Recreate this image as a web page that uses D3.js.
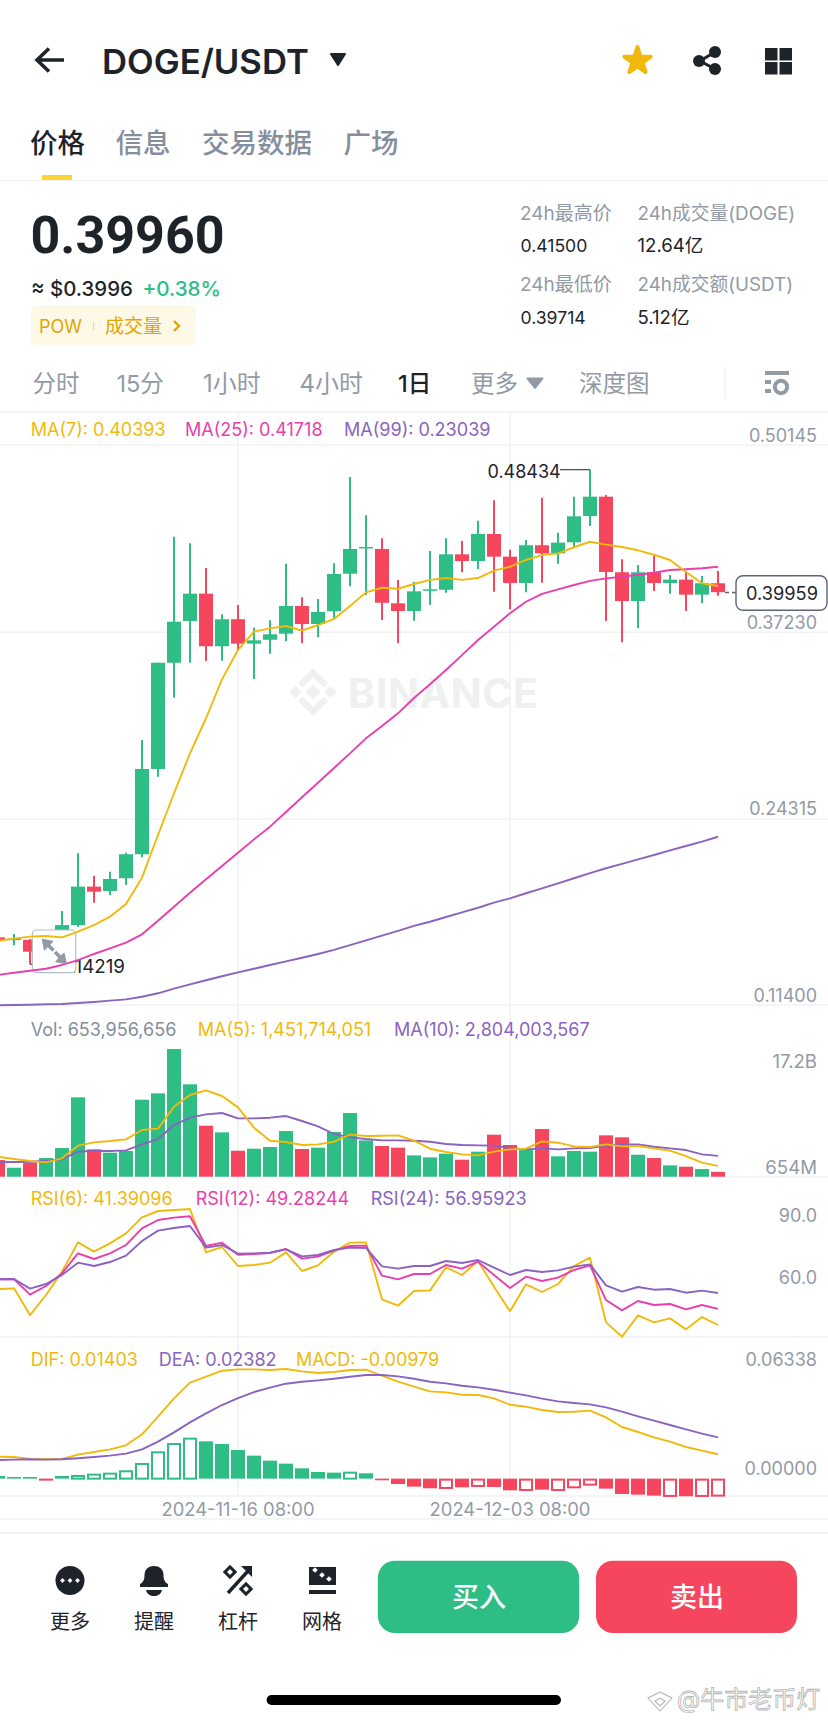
<!DOCTYPE html>
<html><head><meta charset="utf-8">
<script src="https://cdn.jsdelivr.net/npm/d3@7"></script>
<style>
html,body{margin:0;padding:0;background:#fff;}
svg{display:block;}
text{font-family:"Inter","Noto Sans CJK SC",sans-serif;}
</style></head><body>
<svg id="c" width="828" height="1721"></svg>
<script>
// ---------- data ----------
const openP=[.1608,.1590,.1590,.1509,.1540,.1693,.1959,.1929,.2017,.2183,.2773,.3508,.3797,.3986,.3622,.3809,.3640,.3667,.3709,.3901,.3776,.3864,.4124,.4300,.4295,.3919,.3866,.4006,.4013,.4258,.4212,.4399,.4242,.4060,.4321,.4265,.4341,.4523,.4657,.4134,.3935,.4134,.4060,.4083,.3979,.4058];
const closeP=[.1585,.1599,.1509,.1540,.1693,.1959,.1924,.2012,.2183,.2773,.3508,.3792,.3986,.3622,.3809,.3640,.3663,.3705,.3901,.3776,.3859,.4122,.4295,.4309,.3923,.3866,.4002,.4016,.4258,.4212,.4399,.4242,.4060,.4321,.4265,.4339,.4521,.4657,.4136,.3935,.4134,.4060,.4083,.3979,.4058,.39960];
const highP=[.1617,.1631,.1597,.1570,.1790,.2190,.2035,.2062,.2194,.2973,.3508,.4380,.4334,.4164,.3843,.3908,.3750,.3802,.4193,.3961,.3949,.4196,.4793,.4528,.4369,.4081,.4069,.4281,.4369,.4350,.4491,.4632,.4290,.4357,.4650,.4408,.4657,.48434,.4669,.4224,.4184,.4249,.4115,.4138,.4108,.4143];
const lowP=[.1576,.1553,.14219,.1490,.1520,.1682,.1848,.1901,.1970,.2162,.2720,.3266,.3508,.3520,.3522,.3596,.3396,.3571,.3656,.3643,.3684,.3816,.4037,.3977,.3804,.3643,.3799,.3908,.3993,.4134,.4157,.4000,.3878,.3995,.4062,.4193,.4311,.4454,.3797,.3649,.3746,.4004,.3986,.3866,.3919,.3972];
const ma7=[.1585,.1599,.1613,.1617,.1608,.1647,.1693,.1751,.1839,.2021,.2316,.2605,.2881,.3124,.3393,.3596,.3723,.3746,.3762,.3730,.3769,.3811,.3901,.3995,.4027,.4020,.4053,.4081,.4094,.4081,.4094,.4145,.4172,.4219,.4253,.4265,.4307,.4345,.4325,.4309,.4286,.4255,.4219,.4136,.4058,.40393];
const ma25=[.1348,.1363,.1377,.1391,.1417,.1451,.1493,.1532,.1571,.1629,.1723,.1820,.1917,.2010,.2102,.2194,.2286,.2374,.2475,.2577,.2678,.2780,.2881,.2985,.3070,.3158,.3264,.3359,.3458,.3561,.3665,.3757,.3851,.3930,.3984,.4016,.4046,.4074,.4092,.4103,.4117,.4131,.4150,.4155,.4162,.41718];
const ma99=[.1138,.1140,.1142,.1145,.1147,.1154,.1161,.1170,.1179,.1197,.1221,.1253,.1283,.1311,.1339,.1366,.1391,.1417,.1442,.1467,.1493,.1521,.1554,.1587,.1620,.1653,.1687,.1716,.1749,.1781,.1813,.1848,.1878,.1913,.1947,.1982,.2017,.2053,.2086,.2116,.2148,.2178,.2210,.2240,.2270,.23039];
const volume=[2.24,1.21,1.89,2.51,3.86,10.69,3.68,3.23,3.46,10.37,11.23,17.20,12.44,6.87,5.97,3.50,3.77,4.00,6.15,3.73,3.91,6.02,8.58,4.89,4.13,3.91,2.87,2.60,3.10,2.29,3.37,5.66,4.27,3.59,6.42,2.74,3.46,3.37,5.57,5.30,2.96,2.51,1.53,1.35,1.03,.654];
const volMa5=[2.69,2.38,2.11,1.93,2.47,4.18,4.62,4.80,5.03,6.29,6.47,9.43,11.00,11.63,10.87,9.34,6.60,4.85,4.67,4.27,4.36,4.71,5.66,5.48,5.52,5.57,4.85,3.77,3.32,3.01,2.87,3.37,3.68,3.77,4.76,4.58,4.09,4.00,4.36,4.09,4.13,3.82,3.50,2.78,1.89,1.45];
const volMa10=[1.93,1.98,2.02,2.11,2.38,3.37,3.50,3.46,3.55,4.36,5.07,6.96,7.95,8.40,8.58,7.86,7.86,7.95,8.17,7.50,6.78,5.75,5.30,5.07,4.89,4.89,4.85,4.71,4.40,4.27,4.22,4.18,3.86,3.68,3.82,3.68,3.82,3.86,4.18,4.36,4.36,4.04,3.82,3.59,3.01,2.80];
const rsi6=[58.91,59.23,46.25,55.99,67.34,81.61,77.07,81.13,85.99,93.78,96.86,97.35,97.83,76.75,79.34,70.10,70.58,71.72,76.75,67.67,70.42,77.07,81.45,81.61,53.88,50.80,57.93,58.26,69.45,65.72,72.53,60.04,48.04,61.18,57.45,61.34,70.10,74.15,42.69,35.71,46.09,42.69,44.63,39.28,45.28,41.39];
const rsi12=[63.61,63.77,56.15,60.37,66.53,76.26,73.50,76.26,80.32,88.43,92.48,93.62,94.27,79.83,81.45,75.61,75.94,76.42,78.37,73.67,74.64,77.56,79.83,79.99,65.39,63.61,66.21,66.21,70.58,68.80,72.21,65.72,59.39,64.91,62.80,64.42,68.15,70.42,53.55,48.53,53.07,51.12,51.61,49.01,51.12,49.28];
const rsi24=[63.61,63.77,59.07,61.34,65.72,71.72,70.10,72.04,75.13,82.26,87.29,88.59,89.56,79.02,80.32,76.10,76.26,76.59,78.21,74.80,75.45,77.88,79.02,78.86,69.94,68.80,70.10,70.10,72.53,71.56,73.02,69.29,65.72,68.15,67.18,67.99,69.77,70.91,60.69,57.61,59.88,58.58,58.91,57.12,58.10,56.96];
const dif=[.01267,.01248,.01133,.01114,.01133,.01382,.01536,.01690,.01920,.02554,.03571,.04627,.05530,.05875,.06221,.06298,.06298,.06259,.06317,.06182,.06086,.06144,.06259,.06278,.05933,.05587,.05299,.05030,.04973,.04838,.04819,.04627,.04262,.04147,.03955,.03840,.03859,.03917,.03533,.02976,.02688,.02381,.02131,.01824,.01613,.01403];
const dea=[.01075,.01094,.01114,.01094,.01114,.01171,.01248,.01325,.01440,.01690,.02131,.02669,.03245,.03763,.04243,.04646,.04992,.05242,.05472,.05587,.05664,.05760,.05875,.05971,.05971,.05894,.05760,.05587,.05491,.05357,.05261,.05126,.04954,.04800,.04608,.04454,.04358,.04282,.04109,.03859,.03590,.03341,.03091,.02842,.02592,.02382];
const macdHist=[.00154,.00096,.00096,-.00115,.00154,.00211,.00288,.00346,.00480,.00902,.01574,.02054,.02362,.02150,.01997,.01651,.01325,.01037,.00864,.00595,.00384,.00346,.00403,.00307,-.00096,-.00307,-.00461,-.00557,-.00538,-.00499,-.00422,-.00480,-.00672,-.00653,-.00634,-.00653,-.00499,-.00346,-.00576,-.00883,-.00922,-.00979,-.00998,-.01018,-.00998,-.00979];
const macdHollow=[5,6,7,8,9,10,11,12,22,28,30,33,35,36,37,42,44,45];
const volumeUp=[0,1,0,1,1,1,0,1,1,1,1,1,1,0,1,0,1,1,1,0,1,1,1,1,0,0,1,1,1,0,1,0,0,1,0,1,1,1,0,0,1,0,1,0,1,0];
const priceTicks=[0.50145,0.37230,0.24315,0.11400];
const priceTickLabels=["0.50145","0.37230","0.24315","0.11400"];
const dateTickIndex=[15,32];
const dateTickLabels=["2024-11-16 08:00","2024-12-03 08:00"];

const GREEN="#2ebd85",RED="#f6465d",YEL="#f0b90b",PINK="#e83fad",PUR="#8a63c0",GRAY="#929aa5",DARK="#1e2329",GRID="#f1f2f5";
const svg=d3.select("#c");
const idx=d3.range(volume.length);
const x=d3.scaleLinear().domain([0,45]).range([-2,718]);
const yP=d3.scaleLinear().domain([0.114,0.50145]).range([1005,445]);
const yV=d3.scaleLinear().domain([0,17.2]).range([1176.7,1049]);
const yR=d3.scaleLinear().domain([35.71,97.83]).range([1336.7,1209]);
const yM=d3.scaleLinear().domain([-0.01018,0.06338]).range([1496.3,1368.67]);
const BW=14;

function T(px,py,str,o={}){
  return svg.append("text").attr("x",px).attr("y",py).attr("dominant-baseline","central")
    .attr("font-size",o.s||18).attr("font-weight",o.w||400).attr("fill",o.c||GRAY)
    .attr("text-anchor",o.a||"start").text(str);
}
function H(y,c=GRID,w=1.4){svg.append("line").attr("x1",0).attr("x2",828).attr("y1",y).attr("y2",y).attr("stroke",c).attr("stroke-width",w);}
function drawLine(arr,sc,color,w=1.9,g=svg){
  g.append("path").datum(arr).attr("fill","none").attr("stroke",color).attr("stroke-width",w)
   .attr("stroke-linejoin","round").attr("d",d3.line().x((d,i)=>x(i)).y(d=>sc(d)));
}

// ---------- header ----------
svg.append("path").attr("d","M64 60H38M49 48.5L37 60L49 71.5").attr("fill","none").attr("stroke",DARK).attr("stroke-width",3.6);
T(102,61,"DOGE/USDT",{s:34.7,w:600,c:DARK});
svg.append("path").attr("d","M331 54H345L338 65Z").attr("fill",DARK).attr("stroke",DARK).attr("stroke-width",2).attr("stroke-linejoin","round");
svg.append("path").attr("transform","translate(637.5,61)").attr("d",d3.symbol().type(d3.symbolStar).size(215)()).attr("fill",YEL).attr("stroke",YEL).attr("stroke-width",4).attr("stroke-linejoin","round");
svg.append("path").attr("d","M715 52L700 61L715 69").attr("fill","none").attr("stroke",DARK).attr("stroke-width",3);
[[715,52],[699,61],[715,69]].forEach(p=>svg.append("circle").attr("cx",p[0]).attr("cy",p[1]).attr("r",6).attr("fill",DARK));
[[765,48],[779.5,48],[765,62],[779.5,62]].forEach(p=>svg.append("rect").attr("x",p[0]).attr("y",p[1]).attr("width",12.5).attr("height",12.5).attr("fill",DARK));

T(30,143,"价格",{s:27.5,w:500,c:DARK});
T(115.5,143,"信息",{s:27.5,c:"#848e9c",w:500});
T(202,143,"交易数据",{s:27.5,c:"#848e9c",w:500});
T(343.5,143,"广场",{s:27.5,c:"#848e9c",w:500});
svg.append("rect").attr("x",42).attr("y",175).attr("width",30).attr("height",5).attr("fill","#fcd535");
H(180.5,"#eef0f2",1.2);

T(30.5,235,"0.39960",{s:52,w:700,c:DARK}).style("font-family","Roboto");
T(31,288,"≈ $0.3996",{s:20.4,w:500,c:DARK});
T(142.5,288,"+0.38%",{s:20.6,w:500,c:GREEN});
svg.append("rect").attr("x",30.5).attr("y",305).attr("width",165.5).attr("height",40.5).attr("rx",8).attr("fill","#fef9e7");
T(39,326,"POW",{s:18,c:"#dea600"});
svg.append("line").attr("x1",93.5).attr("x2",93.5).attr("y1",322).attr("y2",330).attr("stroke","#e6d9a8");
T(105,326,"成交量",{s:19,c:"#dea600"});
svg.append("path").attr("d","M174 321L179 326L174 331").attr("fill","none").attr("stroke","#dea600").attr("stroke-width",2.4);

T(520,213,"24h最高价",{s:19});
T(637.5,213,"24h成交量(DOGE)",{s:18.8});
T(520.5,245,"0.41500",{s:17.6,c:DARK});
T(637.5,245,"12.64亿",{s:18.6,c:DARK});
T(520,284,"24h最低价",{s:19});
T(637.5,284,"24h成交额(USDT)",{s:18.8});
T(520.5,317,"0.39714",{s:17.6,c:DARK});
T(637.5,317,"5.12亿",{s:18.6,c:DARK});

T(32.5,383,"分时",{s:23.5});
T(116.5,383,"15分",{s:23.5});
T(203,383,"1小时",{s:24});
T(299.5,383,"4小时",{s:24});
T(398,383,"1日",{s:23.5,c:DARK,w:500});
T(471,383,"更多",{s:23.5});
svg.append("path").attr("d","M527.5 378.5H542.5L535 388Z").attr("fill",GRAY).attr("stroke",GRAY).attr("stroke-width",2).attr("stroke-linejoin","round");
T(579,383,"深度图",{s:23.5});
svg.append("line").attr("x1",725).attr("x2",725).attr("y1",367).attr("y2",398).attr("stroke","#eaecef");
svg.append("rect").attr("x",765).attr("y",371).attr("width",24).attr("height",4).attr("fill",GRAY);
svg.append("rect").attr("x",765).attr("y",380).attr("width",6).attr("height",4).attr("fill",GRAY);
svg.append("rect").attr("x",765).attr("y",389).attr("width",6).attr("height",4).attr("fill",GRAY);
svg.append("path").attr("transform","translate(781,387)").attr("d",d3.symbol().type(d3.symbolCircle).size(120)()).attr("fill","none").attr("stroke",GRAY).attr("stroke-width",4);

// ---------- grid ----------
[412.3,445,632.3,819,1005,1176.7,1336.7,1496,1519].forEach(y=>H(y));
H(1533,"#eaecef",1.5);
dateTickIndex.forEach(i=>svg.append("line").attr("x1",x(i)).attr("x2",x(i)).attr("y1",412).attr("y2",1496).attr("stroke",GRID).attr("stroke-width",1.5));

// ---------- watermark ----------
const wm=svg.append("g").attr("fill","#eef0f1");
const gem=(cx,cy,r)=>`M${cx} ${cy-r}L${cx+r} ${cy}L${cx} ${cy+r}L${cx-r} ${cy}Z`;
wm.append("path").attr("d",gem(313,692,7.5)+gem(295.5,692,6)+gem(330.5,692,6));
wm.append("path").attr("d","M313 668L328 683L323.5 687.5L313 677L302.5 687.5L298 683Z");
wm.append("path").attr("d","M313 716L328 701L323.5 696.5L313 707L302.5 696.5L298 701Z");
wm.append("text").attr("x",348).attr("y",693).attr("dominant-baseline","central").attr("font-size",41).attr("font-weight",700).attr("letter-spacing",0.5).text("BINANCE");

// ---------- legend rows ----------
const LS=18.05;
T(30.7,429,"MA(7): 0.40393",{c:YEL,s:LS});
T(185,429,"MA(25): 0.41718",{c:PINK,s:LS});
T(344,429,"MA(99): 0.23039",{c:PUR,s:LS});
T(30.7,1029,"Vol: 653,956,656",{c:"#848e9c",s:LS});
T(197.7,1029,"MA(5): 1,451,714,051",{c:YEL,s:LS});
T(394,1029,"MA(10): 2,804,003,567",{c:PUR,s:LS});
T(30.7,1198,"RSI(6): 41.39096",{c:YEL,s:LS});
T(195.7,1198,"RSI(12): 49.28244",{c:PINK,s:LS});
T(370.7,1198,"RSI(24): 56.95923",{c:PUR,s:LS});
T(30.7,1359,"DIF: 0.01403",{c:YEL,s:LS});
T(158.7,1359,"DEA: 0.02382",{c:PUR,s:LS});
T(296,1359,"MACD: -0.00979",{c:YEL,s:LS});

// ---------- axis labels ----------
const AS=18;
priceTicks.forEach((t,i)=>T(817,yP(t)-9.5,priceTickLabels[i],{a:"end",s:AS}));
T(817,1061,"17.2B",{a:"end",s:18.6});
T(817,1166.7,"654M",{a:"end",s:18.6});
T(817,1215,"90.0",{a:"end",s:AS});
T(817,1277,"60.0",{a:"end",s:AS});
T(817,1359,"0.06338",{a:"end",s:AS});
T(817,1468,"0.00000",{a:"end",s:AS});
dateTickIndex.forEach((d,i)=>T(x(d),1509,dateTickLabels[i],{a:"middle",s:18.4}));

// ---------- candles ----------
const col=i=>closeP[i]>=openP[i]?GREEN:RED;
const cg=svg.append("g");
cg.selectAll("line").data(idx).join("line")
  .attr("x1",i=>x(i)).attr("x2",i=>x(i)).attr("y1",i=>yP(highP[i])).attr("y2",i=>yP(lowP[i]))
  .attr("stroke",col).attr("stroke-width",2);
cg.selectAll("rect").data(idx).join("rect")
  .attr("x",i=>x(i)-BW/2).attr("width",BW)
  .attr("y",i=>yP(Math.max(openP[i],closeP[i])))
  .attr("height",i=>Math.max(1.5,Math.abs(yP(openP[i])-yP(closeP[i]))))
  .attr("fill",col);

// low / high markers
svg.append("path").attr("d",`M${x(2)} ${yP(0.14219)}H${x(2)+36}`).attr("stroke",DARK).attr("fill","none");
T(125,966,"0.14219",{s:18.8,c:DARK,a:"end"});
svg.append("path").attr("d",`M560 ${yP(0.48434)}H${x(37)}`).attr("stroke",DARK).attr("fill","none");
T(487.5,471,"0.48434",{s:18,c:DARK});

// expand box hides what lies under it, the averages stay on top
svg.append("rect").attr("x",32.3).attr("y",930).attr("width",43.4).attr("height",42.7).attr("rx",4).attr("fill","#fff").attr("stroke","#b7bdc6").attr("stroke-width",1.2);
drawLine(ma99,yP,PUR);
drawLine(ma25,yP,PINK);
drawLine(ma7,yP,YEL);
svg.append("path").attr("d","M42.5 939.5L52.5 941.5L44.5 949.5Z M66 963.5L64 953.5L56 961.5Z").attr("fill",GRAY).attr("stroke",GRAY).attr("stroke-width",1.4).attr("stroke-linejoin","round");
svg.append("path").attr("d","M47 944L53.5 950.5M61.5 958.5L55 952").attr("stroke",GRAY).attr("stroke-width",3.6);

// last price tag
svg.append("line").attr("x1",725).attr("x2",736).attr("y1",592.5).attr("y2",592.5).attr("stroke","#5e6673").attr("stroke-width",1.3).attr("stroke-dasharray","4 3");
svg.append("rect").attr("x",736).attr("y",575.8).attr("width",91).attr("height",34.5).attr("rx",7).attr("fill","#fff").attr("stroke","#5e6673").attr("stroke-width",1.4);
T(782,593,"0.39959",{s:18.2,c:DARK,a:"middle"});

// ---------- volume ----------
svg.append("g").selectAll("rect").data(idx).join("rect")
  .attr("x",i=>x(i)-BW/2).attr("width",BW).attr("y",i=>yV(volume[i])).attr("height",i=>yV(0)-yV(volume[i]))
  .attr("fill",i=>volumeUp[i]?GREEN:RED);
drawLine(volMa10,yV,PUR);
drawLine(volMa5,yV,YEL);

// ---------- RSI ----------
drawLine(rsi6,yR,YEL);
drawLine(rsi12,yR,PINK);
drawLine(rsi24,yR,PUR);

// ---------- MACD ----------
svg.append("g").selectAll("rect").data(idx).join("rect")
  .each(function(i){
    const hollow=macdHollow.includes(i),c=macdHist[i]>=0?GREEN:RED;
    const top=Math.min(yM(macdHist[i]),yM(0)),hh=Math.max(1.4,Math.abs(yM(macdHist[i])-yM(0)));
    d3.select(this).attr("x",x(i)-BW/2+(hollow?1:0)).attr("width",BW-(hollow?2:0))
      .attr("y",top+(hollow?1:0)).attr("height",Math.max(1.4,hh-(hollow?1:0)))
      .attr("fill",hollow?"#fff":c).attr("stroke",hollow?c:"none").attr("stroke-width",hollow?2:0);
  });
drawLine(dif,yM,YEL);
drawLine(dea,yM,PUR);

// ---------- bottom bar ----------
svg.append("circle").attr("cx",70).attr("cy",1580.5).attr("r",14.5).attr("fill",DARK);
[62.5,70,77.5].forEach(cx=>svg.append("path").attr("transform",`translate(${cx},1580.5) rotate(45)`).attr("d","M-1.7 -1.7H1.7V1.7H-1.7Z").attr("fill","#fff"));
svg.append("path").attr("d","M140 1587H168V1584C164 1582 163.5 1578 163.5 1575C163.5 1569 159 1566 154 1566C149 1566 144.5 1569 144.5 1575C144.5 1578 144 1582 140 1584Z").attr("fill",DARK);
svg.append("path").attr("d","M146 1590H162C161 1594 158 1596 154 1596C150 1596 147 1594 146 1590Z").attr("fill",DARK);
svg.append("path").attr("d","M228 1593L248 1571").attr("stroke",DARK).attr("stroke-width",3.4);
svg.append("path").attr("d","M241 1566H252V1577Z").attr("fill",DARK);
[[230,1572],[246,1589]].forEach(p=>svg.append("path").attr("transform",`translate(${p[0]},${p[1]}) rotate(45)`).attr("d","M-3.6 -3.6H3.6V3.6H-3.6Z").attr("fill","none").attr("stroke",DARK).attr("stroke-width",3));
svg.append("rect").attr("x",309).attr("y",1567).attr("width",27).attr("height",18).attr("fill",DARK);
svg.append("rect").attr("x",309).attr("y",1590).attr("width",27).attr("height",4).attr("fill",DARK);
[[315,1570],[322,1575],[329,1579]].forEach(p=>svg.append("path").attr("transform",`translate(${p[0]},${p[1]}) rotate(45)`).attr("d","M-2 -2H2V2H-2Z").attr("fill","#fff"));
T(70,1622,"更多",{s:20,c:DARK,a:"middle"});
T(154,1622,"提醒",{s:20,c:DARK,a:"middle"});
T(238,1622,"杠杆",{s:20,c:DARK,a:"middle"});
T(322,1622,"网格",{s:20,c:DARK,a:"middle"});
svg.append("rect").attr("x",377.8).attr("y",1560.7).attr("width",201.4).attr("height",72.3).attr("rx",17).attr("fill",GREEN);
svg.append("rect").attr("x",596).attr("y",1560.7).attr("width",201).attr("height",72.3).attr("rx",17).attr("fill",RED);
T(479,1597.5,"买入",{s:27,c:"#fff",a:"middle",w:500});
T(697,1597.5,"卖出",{s:27,c:"#fff",a:"middle",w:500});
svg.append("rect").attr("x",266.6).attr("y",1695).attr("width",294.4).attr("height",10).attr("rx",5).attr("fill","#000");
svg.append("path").attr("d","M660 1692L672 1698L660 1711L648 1698Z M660 1698L665 1701L660 1706L655 1701Z").attr("fill","none").attr("stroke","#b5b5b5").attr("stroke-width",1.1);
T(677,1699,"@牛市老币灯",{s:24,c:"#fff"}).attr("stroke","#b5b5b5").attr("stroke-width",0.8);
</script>
</body></html>
